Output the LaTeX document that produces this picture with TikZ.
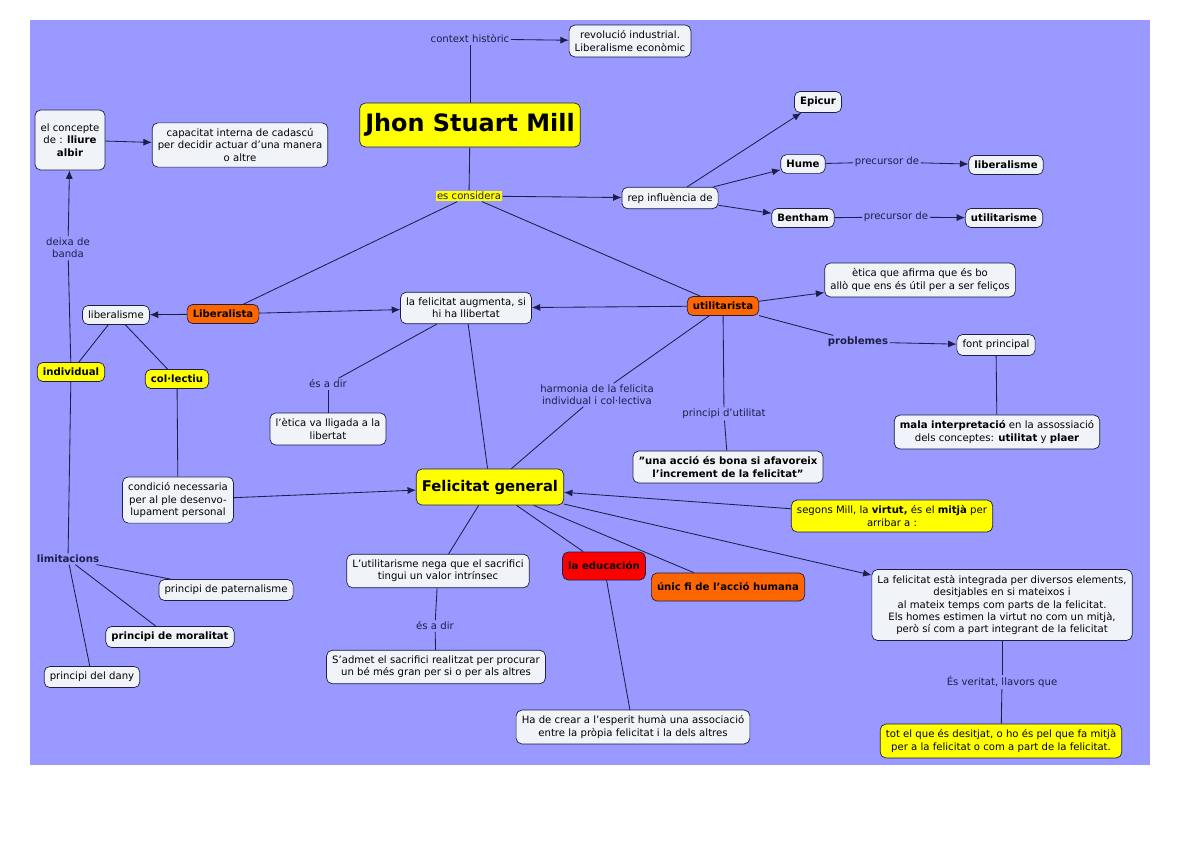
\documentclass[tikz,border=0pt]{standalone}
\usepackage{fontspec}
\setmainfont{DejaVu Sans}
\usetikzlibrary{arrows.meta}
\definecolor{bg}{RGB}{153,153,255}
\definecolor{box}{RGB}{240,243,248}
\definecolor{ylw}{RGB}{255,255,0}
\definecolor{org}{RGB}{255,102,0}
\definecolor{edge}{RGB}{30,30,70}
\tikzset{
  concept/.style={draw=edge, fill=box, rounded corners=4pt, align=center, inner sep=4pt, line width=0.5pt},
  yconcept/.style={concept, fill=ylw},
  oconcept/.style={concept, fill=org},
  bold/.style={font=\fontsize{7.2}{8.8}\selectfont\bfseries},
  link/.style={align=center, inner sep=1pt, text=edge},
  con/.style={draw=edge, line width=0.6pt},
  arr/.style={con, -{Latex[length=6pt,width=5pt]}}
}
\begin{document}
\begin{tikzpicture}[x=0.025cm, y=-0.025cm, font=\fontsize{7.2}{8.8}\selectfont]
    \useasboundingbox (0, 0) rectangle (1200, 849);
    \fill [bg] (30, 20) rectangle (1150, 765);

    % top
    \node [yconcept, font=\fontsize{17}{20}\selectfont\bfseries, minimum width=5.4cm, minimum height=1.1cm] (jsm) at (470, 125) {Jhon Stuart Mill};
    \node [link] (ctx) at (470, 39) {context històric};
    \node [concept] (rev) at (630, 41) {revolució industrial.\\Liberalisme econòmic};
    \node [link, fill=ylw] (esc) at (469, 196) {es considera};
    \node [concept] (rep) at (670, 198) {rep influència de};
    \node [concept, bold] (epicur) at (818, 102) {Epicur};
    \node [concept, bold] (hume) at (803, 164) {Hume};
    \node [link] (prec1) at (887, 162) {precursor de};
    \node [concept, bold] (lib2) at (1006, 165) {liberalisme};
    \node [concept, bold] (bentham) at (803, 218) {Bentham};
    \node [link] (prec2) at (896, 217) {precursor de};
    \node [concept, bold] (util) at (1004, 218) {utilitarisme};

    % left
    \node [concept, minimum height=1.5cm] (concepte) at (70, 140) {el concepte\\de : \textbf{lliure}\\\textbf{albir}};
    \node [concept] (capac) at (240, 145) {capacitat interna de cadascú\\per decidir actuar d'una manera\\o altre};
    \node [link] (deixa) at (68, 248) {deixa de\\banda};
    \node [concept] (liberalisme) at (116, 315) {liberalisme};
    \node [oconcept, bold] (liberalista) at (223, 314) {Liberalista};
    \node [yconcept, bold] (individual) at (71, 372) {individual};
    \node [yconcept, bold] (colectiu) at (177, 379) {col·lectiu};
    \node [concept] (condicio) at (178, 500) {condició necessaria\\per al ple desenvo-\\lupament personal};
    \node [link, bold] (limitacions) at (68, 559) {limitacions};
    \node [concept] (paternalisme) at (226, 590) {principi de paternalisme};
    \node [concept, bold] (moralitat) at (170, 637) {principi de moralitat};
    \node [concept] (dany) at (92, 677) {principi del dany};

    % middle
    \node [concept] (felaug) at (466, 308) {la felicitat augmenta, si\\hi ha llibertat};
    \node [oconcept, bold] (utilitarista) at (723, 306) {utilitarista};
    \node [link] (esadir1) at (328, 384) {és a dir};
    \node [concept] (eticalib) at (328, 429) {l'ètica va lligada a la\\libertat};
    \node [link] (harmonia) at (597, 395) {harmonia de la felicita\\individual i col·lectiva};
    \node [link] (principi) at (724, 414) {principi d'utilitat};
    \node [concept, bold] (una) at (728, 467) {\symbol{34}una acció és bona si afavoreix\\l'increment de la felicitat\symbol{34}};
    \node [yconcept, font=\fontsize{10.5}{12}\selectfont\bfseries, minimum height=0.9cm] (felgen) at (490, 487) {Felicitat general};

    % right
    \node [concept] (etica) at (920, 280) {ètica que afirma que és bo\\allò que ens és útil per a ser feliços};
    \node [link, bold] (problemes) at (858, 342) {problemes};
    \node [concept] (font) at (996, 345) {font principal};
    \node [concept] (mala) at (997, 432) {\textbf{mala interpretació} en la assossiació\\dels conceptes: \textbf{utilitat} y \textbf{plaer}};
    \node [yconcept] (segons) at (892, 516) {segons Mill, la \textbf{virtut,} és el \textbf{mitjà} per\\arribar a :};

    % bottom
    \node [concept] (nega) at (438, 571) {L'utilitarisme nega que el sacrifici\\tingui un valor intrínsec};
    \node [link] (esadir2) at (435, 626) {és a dir};
    \node [concept] (sadmet) at (436, 667) {S'admet el sacrifici realitzat per procurar\\un bé més gran per si o per als altres};
    \node [concept, fill=red, bold, minimum height=0.7cm] (educacio) at (604, 566) {la educación};
    \node [oconcept, bold, minimum height=0.7cm] (unic) at (728, 587) {únic fi de l'acció humana};
    \node [concept] (hacrear) at (633, 727) {Ha de crear a l'esperit humà una associació\\entre la pròpia felicitat i la dels altres};
    \node [concept] (lafel) at (1002, 605) {La felicitat està integrada per diversos elements,\\desitjables en si mateixos i\\al mateix temps com parts de la felicitat.\\Els homes estimen la virtut no com un mitjà,\\però sí com a part integrant de la felicitat};
    \node [link] (esver) at (1002, 682) {És veritat, llavors que};
    \node [yconcept] (tot) at (1001, 741) {tot el que és desitjat, o ho és pel que fa mitjà\\per a la felicitat o com a part de la felicitat.};

    % connectors
    \draw [con] (jsm) -- (ctx);
    \draw [arr] (ctx) -- (rev);
    \draw [con] (jsm) -- (esc);
    \draw [arr] (esc) -- (rep);
    \foreach \n in {epicur, hume, bentham}
        {
            \draw [arr] (rep) -- (\n);
        }
    \draw [con] (hume) -- (prec1);
    \draw [arr] (prec1) -- (lib2);
    \draw [con] (bentham) -- (prec2);
    \draw [arr] (prec2) -- (util);
    \draw [con] (esc) -- (liberalista);
    \draw [con] (esc) -- (utilitarista);
    \draw [arr] (liberalista) -- (liberalisme);
    \draw [arr] (liberalista) -- (felaug);
    \draw [arr] (utilitarista) -- (felaug);
    \draw [arr] (utilitarista) -- (etica);
    \draw [con] (utilitarista) -- (problemes);
    \draw [arr] (problemes) -- (font);
    \draw [con] (font) -- (mala);
    \draw [con] (utilitarista) -- (principi);
    \draw [con] (principi) -- (una);
    \draw [con] (utilitarista) -- (harmonia);
    \draw [con] (harmonia) -- (felgen);
    \draw [con] (felaug) -- (felgen);
    \draw [con] (felaug) -- (esadir1);
    \draw [con] (esadir1) -- (eticalib);
    \draw [con] (liberalisme) -- (individual);
    \draw [con] (liberalisme) -- (colectiu);
    \draw [con] (individual) -- (deixa);
    \draw [arr] (deixa) -- (concepte);
    \draw [arr] (concepte) -- (capac);
    \draw [con] (individual) -- (limitacions);
    \foreach \n in {paternalisme, moralitat, dany}
        {
            \draw [con] (limitacions) -- (\n);
        }
    \draw [con] (colectiu) -- (condicio);
    \draw [arr] (condicio) -- (felgen);
    \draw [arr] (segons) -- (felgen);
    \draw [con] (felgen) -- (nega);
    \draw [con] (nega) -- (esadir2);
    \draw [con] (esadir2) -- (sadmet);
    \draw [con] (felgen) -- (educacio);
    \draw [con] (educacio) -- (hacrear);
    \draw [con] (felgen) -- (unic);
    \draw [arr] (felgen) -- (lafel);
    \draw [con] (lafel) -- (esver);
    \draw [con] (esver) -- (tot);
\end{tikzpicture}
\end{document}
